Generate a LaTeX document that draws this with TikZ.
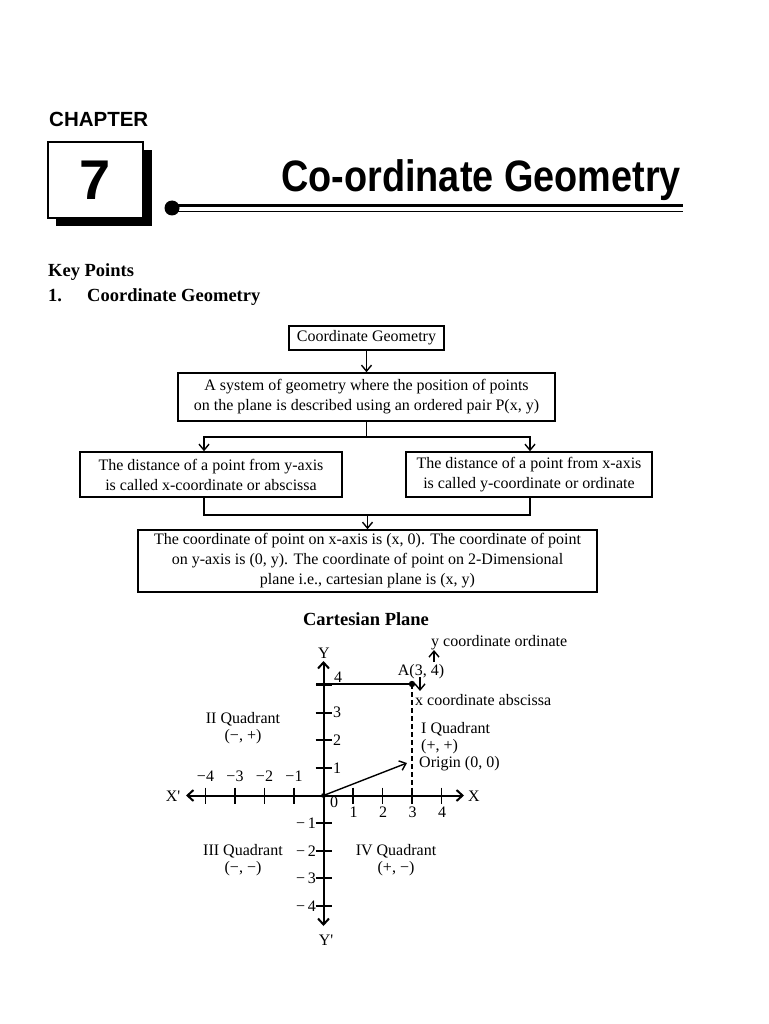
\documentclass[tikz,border=0pt]{standalone}
\usepackage{fontspec}
\setmainfont{Liberation Serif}
\newfontfamily\nomapserif{Liberation Serif}
\newfontfamily\hsans{Liberation Sans}
\newfontfamily\hsanscond[FakeStretch=0.86]{Liberation Sans}
\usetikzlibrary{arrows.meta}
\begin{document}
\begin{tikzpicture}[x=1pt,y=-1pt,
  fbox/.style={draw,line width=1.5pt,align=center,inner sep=0pt,font=\fontsize{16}{20}\selectfont},
  arr/.style={-{Straight Barb[length=6pt,width=10pt,line width=1.4pt]},line width=1.4pt},
  link/.style={line width=1.4pt},
  axis/.style={line width=2pt},
  tick/.style={line width=1.8pt},
  lab/.style={font=\fontsize{16}{18}\selectfont,inner sep=0pt},
  ]
\useasboundingbox[fill=white] (0,0) rectangle (768,1024);
% ---------- chapter header ----------
\node[anchor=base west,inner sep=0pt,font=\hsans\bfseries\fontsize{20.5}{22}\selectfont] (chap) at (49,127) {CHAPTER};
\fill (56,150) rectangle (152,226);
\node[draw,line width=2.2pt,fill=white,minimum width=95pt,minimum height=76pt,inner sep=0pt,
  font=\hsans\bfseries\fontsize{56}{60}\selectfont] (num) at (95.5,180) {7};
\node[anchor=base east,inner sep=0pt,font=\hsanscond\bfseries\fontsize{44}{48}\selectfont] (title) at (681,192) {Co-ordinate Geometry};
\draw[line width=3.2pt] (172,205.5) -- (683,205.5);
\draw[line width=1.8pt] (172,211.5) -- (683,211.5);
\fill (172,208) circle (7.5);
% ---------- key points ----------
\node[anchor=base west,inner sep=0pt,font=\bfseries\fontsize{18.5}{20}\selectfont] (kp) at (48,276) {Key Points};
\node[anchor=base west,inner sep=0pt,font=\bfseries\fontsize{18.5}{20}\selectfont] (n1) at (48,301) {1.};
\node[anchor=base west,inner sep=0pt,font=\bfseries\fontsize{18.5}{20}\selectfont] (cg) at (87,301) {Coordinate Geometry};
% ---------- flowchart ----------
\node[fbox,minimum width=155pt,minimum height=24pt] (b1) at (366.5,338) {Coordinate Geometry};
\node[fbox,minimum width=377pt,minimum height=48pt] (b2) at (366.5,397) {A system of geometry where the position of points\\on the plane is described using an ordered pair P(x, y)};
\node[fbox,minimum width=262pt,minimum height=45pt] (b3) at (211,474.5) {The distance of a point from y-axis\\is called x-coordinate or abscissa};
\node[fbox,minimum width=246pt,minimum height=45pt] (b4) at (529,474.5) {The distance of a point from x-axis\\is called y-coordinate or ordinate};
\node[fbox,minimum width=459pt,minimum height=62pt] (b5) at (367.5,561) {The coordinate of point on x-axis is (x, 0). The coordinate of point\\on y-axis is (0, y). The coordinate of point on 2-Dimensional\\plane i.e., cartesian plane is (x, y)};
\draw[arr] (b1.south) -- (b2.north);
\coordinate (j1) at (366.5,437);
\draw[link] (b2.south) -- (j1);
\draw[arr] (j1) -| ([xshift=-7pt]b3.north);
\draw[arr] (j1) -| ([xshift=1pt]b4.north);
\coordinate (j2) at (367.5,515);
\draw[link] ([xshift=-7pt]b3.south) |- (j2);
\draw[link] ([xshift=1pt]b4.south) |- (j2);
\draw[arr] (j2) -- (b5.north);
% ---------- cartesian plane ----------
\node[inner sep=0pt,font=\bfseries\fontsize{18.5}{20}\selectfont] (cp) at (366,619) {Cartesian Plane};
\coordinate (O) at (323.5,795.5);
\coordinate (xl) at (186,795.5);
\coordinate (xr) at (464,795.5);
\coordinate (yt) at (323.5,661);
\coordinate (yb) at (323.5,926);
\draw[axis,{Straight Barb[length=6pt,width=11pt]}-{Straight Barb[length=6pt,width=11pt]}] (xl) -- (xr);
\draw[axis,{Straight Barb[length=6pt,width=11pt]}-{Straight Barb[length=6pt,width=11pt]}] (yt) -- (yb);
\foreach \i in {-4,-3,-2,-1,1,2,3,4}{
  \draw[tick] (323.5+29.5*\i,787.5) -- (323.5+29.5*\i,803.5);
  \draw[tick] (315.5,795.5-27.6*\i) -- (331.5,795.5-27.6*\i);
}
\foreach \i in {1,2,3,4}{
  \node[lab] (xp\i) at (323.5+29.5*\i+0.5,812) {\i};
  \node[lab] (xn\i) at (323.5-29.5*\i,776) {−\i};
  \node[lab,anchor=east] (yn\i) at (316,795.5+27.6*\i) {−\,\i};
}
\foreach \i in {1,2,3}{
  \node[lab,anchor=west] (yp\i) at (333,795.5-27.6*\i) {\i};
}
\node[lab,anchor=west] (yp4) at (334,677.5) {4};
\node[lab] (zero) at (334,802) {0};
\node[lab] (X) at (474,796) {X};
\node[lab] (Xp) at (173,796) {\nomapserif X'};
\node[lab] (Y) at (324,653) {Y};
\node[lab] (Yp) at (326,940) {\nomapserif Y'};
% point A
\coordinate (A) at (412,684);
\draw[link] (316,684) -- (A);
\draw[line width=1.2pt,dash pattern=on 5pt off 3pt] (A) -- (412,795.5);
\fill (A) circle (3.2);
\node[lab] (Alab) at (421,672) {A(3, 4)};
\coordinate (da1) at (420,677);
\coordinate (da2) at (420,691);
\draw[arr] (da1) -- (da2);
\coordinate (ua1) at (434,662);
\coordinate (ua2) at (434,650);
\draw[arr] (ua1) -- (ua2);
\node[lab,anchor=west] (yco) at (431,643) {y coordinate ordinate};
\node[lab,anchor=west] (xco) at (415,700) {x coordinate abscissa};
\node[lab,anchor=west] (q1) at (421,729) {I Quadrant};
\node[lab,anchor=west] (q1s) at (421,747) {(+, +)};
\node[lab,anchor=west] (orig) at (419,764) {Origin (0, 0)};
\coordinate (ot) at (407,763);
\draw[arr] (O) -- (ot);
\fill (O) circle (2.4);
\node[lab] (q2) at (243,719) {II Quadrant};
\node[lab] (q2s) at (243,737) {(−, +)};
\node[lab] (q3) at (243,851) {III Quadrant};
\node[lab] (q3s) at (243,869) {(−, −)};
\node[lab] (q4) at (396,851) {IV Quadrant};
\node[lab] (q4s) at (396,869) {(+, −)};
\end{tikzpicture}
\end{document}
